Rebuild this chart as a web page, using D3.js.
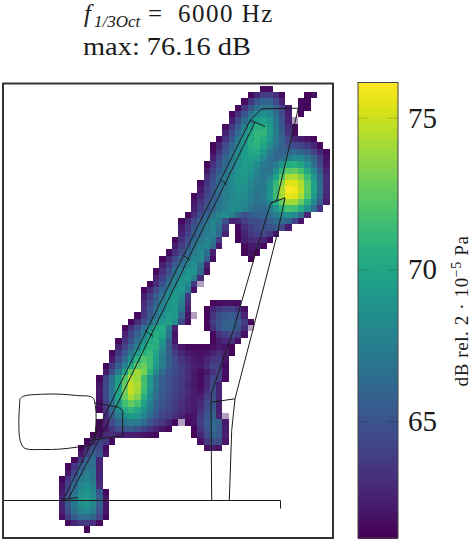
<!DOCTYPE html>
<html>
<head>
<meta charset="utf-8">
<script src="https://cdn.jsdelivr.net/npm/d3@7"></script>
<style>
  html, body { margin: 0; padding: 0; background: #fff; }
  text { font-family: 'Liberation Serif', serif; fill: #1a1a1a; }
</style>
</head>
<body>
<div id="chart"></div>
<script>
// level range of the map, dB
const levelMin = 61.16;
const levelMax = 76.16;
const barTicks = [65, 70, 75];

// first column of each grid row
const rowStart = [
  32, 30, 29, 28, 27, 27, 26, 26, 25, 24, 24, 24, 23, 23, 23, 22, 22, 21, 21, 21,
  20, 19, 19, 19, 18, 18, 17, 16, 16, 15, 15, 14, 13, 13, 13, 13, 12, 11, 10, 10,
  9, 9, 8, 8, 7, 7, 6, 6, 6, 6, 6, 6, 7, 6, 6, 5, 4, 3, 3, 2, 1, 1,
  0, 0, 0, 0, 0, 0, 0, 1, 4
];

const rowLevels = [
  [61.6, 61.6],
  [61.5, 62.8, 63.8, 64.0, 63.2, 61.6, null, null, null, 61.4, 61.9],
  [61.6, 63.6, 65.2, 66.0, 65.8, 64.4, 62.6, null, null, 61.5, 61.5],
  [61.5, 63.4, 65.2, 66.6, 67.2, 67.0, 65.8, 64.2, 62.2, null, 61.6, 61.4],
  [61.5, 63.2, 65.2, 67.0, 68.2, 68.6, 68.0, 66.6, 64.6, 62.4, null, 61.5],
  [62.4, 64.4, 66.2, 68.0, 69.4, 69.8, 69.0, 67.2, 65.0, 62.6],
  [61.7, 63.6, 65.6, 67.6, 69.4, 70.6, 70.6, 69.2, 67.2, 65.2, 63.2, 61.6],
  [62.6, 64.4, 66.4, 68.4, 70.0, 71.0, 71.0, 69.4, 67.6, 65.6, 63.4, 61.6],
  [61.6, 63.4, 65.2, 67.2, 68.8, 70.2, 71.0, 70.4, 69.0, 67.4, 65.8, 64.2, 62.8, 62.2, 61.9, 61.5],
  [61.4, 62.6, 64.4, 66.2, 67.8, 69.2, 70.4, 70.8, 70.0, 68.4, 67.0, 65.8, 64.8, 64.4, 64.2, 63.6, 62.8, 61.5],
  [61.7, 63.4, 65.2, 66.8, 68.2, 69.4, 70.2, 70.2, 69.0, 67.4, 66.2, 65.8, 66.0, 66.4, 66.0, 65.4, 64.2, 62.8, 61.5],
  [62.4, 64.2, 65.8, 67.2, 68.4, 69.4, 69.8, 69.4, 68.2, 66.8, 66.0, 66.4, 67.6, 68.4, 68.2, 67.2, 65.8, 63.8, 61.9],
  [61.5, 63.2, 64.8, 66.2, 67.6, 68.6, 69.2, 69.2, 68.4, 67.2, 66.6, 67.4, 69.0, 70.4, 70.6, 70.0, 68.6, 66.6, 64.4, 62.2],
  [62.2, 64.0, 65.4, 66.8, 68.0, 68.8, 69.2, 69.0, 68.0, 67.0, 67.0, 68.6, 70.6, 72.4, 72.6, 71.8, 70.2, 68.0, 65.4, 62.6],
  [63.0, 64.6, 66.0, 67.2, 68.2, 69.0, 69.2, 68.6, 67.6, 67.0, 67.8, 69.8, 72.2, 74.2, 74.4, 73.4, 71.4, 69.0, 66.0, 63.0],
  [61.6, 63.4, 65.0, 66.2, 67.2, 68.2, 69.0, 69.0, 68.2, 67.4, 67.4, 68.8, 71.0, 73.6, 75.4, 75.4, 74.4, 72.2, 69.6, 66.4, 63.0],
  [62.2, 63.8, 65.2, 66.4, 67.4, 68.2, 68.8, 68.6, 67.8, 67.0, 67.2, 68.8, 71.4, 74.2, 76.16, 75.8, 74.6, 72.4, 69.8, 66.6, 63.0],
  [61.5, 62.8, 64.2, 65.4, 66.4, 67.4, 68.2, 68.6, 68.2, 67.6, 67.0, 67.4, 69.0, 71.4, 74.0, 75.6, 75.4, 74.2, 72.0, 69.4, 66.2, 62.8],
  [62.0, 63.4, 64.6, 65.8, 66.8, 67.6, 68.2, 68.4, 68.0, 67.4, 66.8, 67.0, 68.4, 70.4, 72.6, 74.0, 74.0, 72.6, 70.6, 68.2, 65.4, 62.4],
  [62.4, 63.8, 65.0, 66.0, 67.0, 67.8, 68.4, 68.4, 67.8, 67.0, 66.2, 66.2, 67.4, 69.0, 70.8, 71.8, 71.6, 70.4, 68.6, 66.4, 63.4],
  [61.5, 63.2, 64.6, 65.8, 67.0, 68.0, 68.4, 67.6, 65.8, 64.8, 65.4, 65.8, 66.0, 66.6, 67.6, 68.4, 68.8, 68.2, 66.6, 62.8],
  [61.5, 63.0, 64.4, 65.6, 66.8, 68.0, 67.2, 64.8, 62.6, 62.8, 63.8, 64.6, 64.6, 65.0, 65.6, 66.2, 66.4, 65.8, 64.2, 62.0],
  [62.2, 63.6, 65.0, 66.2, 67.4, 68.0, 66.8, 63.6, null, 61.6, 63.2, 64.0, 64.4, 64.8, 65.0, 65.4, 64.4, 62.2],
  [62.8, 64.0, 65.4, 66.6, 67.6, 67.8, 66.2, 62.6, null, 61.4, 62.6, 63.6, 64.0, 64.2, 63.6, 62.0],
  [61.6, 63.2, 64.6, 66.0, 67.2, 68.0, 67.2, 63.8, null, null, 61.4, 62.4, 63.0, 63.2, 62.8, 61.6],
  [62.4, 63.8, 65.2, 66.6, 67.8, 68.2, 66.4, 62.2, null, null, null, 61.6, 62.2, 62.4, 61.6],
  [61.6, 63.2, 64.6, 66.0, 67.4, 68.2, 66.6, 62.4, null, null, null, null, 61.4, 61.9, 61.5],
  [61.4, 62.8, 64.4, 65.8, 67.2, 68.2, 68.2, 65.6, 61.8, null, null, null, null, null, 61.4],
  [62.4, 63.8, 65.4, 66.8, 68.0, 68.6, 67.0, 62.6],
  [61.6, 63.2, 64.8, 66.4, 67.8, 68.8, 68.8, 66.2, 61.7],
  [62.6, 64.0, 65.8, 67.4, 68.8, 69.2, 67.6, 63.0],
  [61.5, 63.2, 64.8, 66.6, 68.0, 69.0, 68.2, 63.6],
  [61.5, 62.8, 64.4, 66.0, 67.6, 68.8, 69.2, 67.2, 62.0],
  [62.4, 63.8, 65.4, 67.0, 68.4, 69.2, 68.4, 63.6],
  [63.0, 64.4, 66.0, 67.6, 68.8, 69.2, 67.8, 63.0, null, null, null, 61.4, 61.6, 61.8, 61.8, 61.6],
  [63.4, 65.0, 66.6, 68.0, 69.0, 69.4, 67.2, 62.6, null, null, 61.4, 62.8, 63.6, 64.0, 64.0, 63.4, 61.8],
  [61.6, 63.6, 65.2, 66.8, 68.4, 69.4, 69.2, 66.0, 62.0, null, null, 61.5, 63.4, 64.6, 65.2, 65.4, 64.8, 62.6],
  [61.5, 63.0, 64.6, 66.2, 67.8, 69.2, 69.8, 68.6, 64.4, 61.7, null, null, 61.6, 63.8, 65.0, 65.8, 66.0, 65.4, 63.8, 61.5],
  [61.6, 63.2, 64.8, 66.6, 68.4, 70.0, 70.2, 67.6, 62.6, null, null, null, null, 61.4, 63.2, 64.8, 65.6, 65.8, 65.2, 63.2],
  [62.6, 64.2, 65.8, 67.6, 69.6, 70.6, 70.0, 66.8, 61.9, null, null, null, null, null, 61.6, 63.2, 64.0, 64.4, 63.8, 61.9],
  [61.6, 63.4, 65.0, 66.8, 68.8, 70.2, 70.6, 69.0, 65.6, 62.0, null, null, null, null, null, 61.4, 62.2, 62.8, 63.0, 61.8],
  [62.6, 64.2, 65.8, 67.8, 69.6, 70.8, 70.6, 68.6, 65.4, 63.0, 62.0, 61.6, 61.5, 61.5, 61.5, 61.7, 62.2, 62.0, 61.4],
  [61.5, 63.6, 65.4, 67.2, 69.2, 70.8, 71.2, 70.0, 67.8, 65.6, 63.8, 62.8, 62.2, 61.9, 61.8, 62.0, 62.6, 63.0, 62.4, 61.5],
  [62.2, 64.4, 66.4, 68.6, 70.8, 72.0, 71.4, 69.6, 67.4, 65.6, 64.4, 63.4, 62.8, 62.2, 62.0, 62.6, 63.4, 63.6, 62.0],
  [61.5, 63.6, 65.6, 67.8, 70.2, 72.2, 72.8, 71.4, 69.4, 67.4, 65.6, 64.6, 63.8, 63.2, 62.4, 62.2, 63.0, 64.0, 63.8, 61.6],
  [62.2, 64.6, 67.2, 70.0, 72.6, 74.0, 73.0, 70.8, 68.4, 66.4, 65.2, 64.4, 63.8, 63.0, 62.2, 61.7, 62.2, 63.4, 64.2, 61.8],
  [61.4, 64.2, 66.8, 69.4, 72.2, 74.2, 73.8, 71.6, 69.2, 67.0, 65.6, 64.8, 64.2, 63.8, 63.0, 62.2, 61.6, 62.8, 64.2, 64.0, 61.6],
  [61.9, 64.4, 67.0, 69.6, 72.6, 74.8, 74.2, 71.8, 69.2, 67.0, 65.6, 64.8, 64.2, 63.6, 62.8, 62.0, 61.6, 62.8, 64.4, 62.6],
  [62.2, 64.4, 67.0, 70.0, 73.0, 74.8, 74.0, 71.4, 68.8, 66.8, 65.4, 64.8, 64.2, 63.6, 63.0, 62.2, 61.9, 63.2, 64.6, 62.6],
  [62.0, 64.4, 67.0, 69.8, 72.6, 74.2, 73.2, 70.6, 68.4, 66.4, 65.2, 64.6, 64.0, 63.4, 62.8, 62.2, 62.4, 63.8, 64.8, 62.6],
  [61.7, 64.0, 66.6, 69.2, 71.6, 72.6, 71.8, 69.6, 67.8, 66.0, 65.0, 64.4, 63.8, 63.2, 62.6, 62.2, 62.8, 64.4, 65.2, 62.5],
  [61.5, 63.6, 66.2, 68.4, 70.2, 71.0, 70.2, 68.8, 67.2, 65.6, 64.6, 64.2, 63.6, 63.0, 62.4, 62.2, 63.2, 64.8, 65.4, 62.4],
  [63.0, 65.4, 67.4, 68.8, 69.4, 69.0, 67.8, 66.4, 65.2, 64.2, 63.8, 63.2, 62.6, 61.9, 62.0, 63.6, 65.2, 65.8, 62.6],
  [61.5, 62.6, 64.4, 66.0, 67.0, 67.4, 67.2, 66.4, 65.2, 64.2, 63.4, 62.6, 61.6, null, 61.5, 62.0, 63.8, 65.4, 66.2, 65.6, 62.2],
  [61.4, 62.2, 63.6, 64.6, 65.2, 65.4, 65.0, 64.2, 63.4, 62.6, 61.9, 61.4, null, null, null, 61.5, 63.4, 65.2, 66.2, 65.6, 62.4],
  [61.4, 61.8, 63.0, 63.2, 62.8, 62.4, 62.4, 62.2, 62.0, 61.8, 61.5, null, null, null, null, null, 61.4, 62.8, 64.6, 65.8, 65.4, 62.4],
  [61.4, 63.0, 64.2, 63.6, 61.6, null, null, null, null, null, null, null, null, null, null, null, null, null, 61.7, 63.6, 64.8, 64.4, 62.0],
  [61.4, 63.2, 64.6, 64.4, 61.6, null, null, null, null, null, null, null, null, null, null, null, null, null, null, null, 61.8, 62.4, 61.9],
  [62.0, 64.0, 65.6, 65.2, 62.0],
  [61.5, 63.6, 65.6, 66.4, 62.8],
  [61.4, 63.4, 65.4, 66.8, 66.4, 62.6],
  [62.2, 64.2, 66.2, 67.4, 67.0, 62.8],
  [61.4, 63.4, 65.4, 67.2, 68.0, 67.0, 62.8],
  [61.9, 64.0, 66.2, 68.0, 68.6, 67.6, 63.0],
  [62.2, 64.6, 66.8, 68.4, 69.0, 68.0, 65.2, 61.5],
  [62.6, 65.0, 67.2, 68.8, 69.2, 68.4, 65.8, 62.0],
  [62.6, 65.2, 67.2, 68.6, 69.0, 68.2, 65.8, 62.0],
  [62.4, 64.8, 66.6, 67.8, 68.2, 67.4, 65.2, 61.9],
  [61.8, 63.8, 65.4, 66.4, 66.6, 66.0, 64.2, 61.5],
  [61.6, 62.8, 63.6, 63.8, 63.2, 61.6],
  [61.4]
];

// half transparent border cells, [col, row]
const paleCells = [[37, 5], [22, 31], [21, 36], [30, 38], [26, 52], [19, 53]];

// aircraft outline, traced units from the frame corner
const groundLine = [[0, 417], [277.5, 417], [277.5, 425]];
const engine = [[17, 315.3], [18.7, 313.7], [40.3, 310.7], [73.7, 312], [90.3, 314.7], [92.3, 322], [92.3, 348.7], [90.3, 360.3], [73.7, 363.7], [40.3, 366], [20.3, 363.7], [17.7, 358.7], [17, 315.3]];
const pylonBox = [[91.3, 319.3], [115.3, 323.7], [119.7, 327], [119.7, 352], [87, 357]];
const strutFront = [[60.3, 416], [247, 37], [258.7, 25.3], [295.3, 24.7]];
const strutRear = [[65.3, 415.3], [112, 325.3], [252, 38.7]];
const strutFoot = [[60.3, 416], [65.3, 415.3], [75, 414]];
const strutTicks = [
  [[142, 247], [150.3, 253]],
  [[180.3, 172], [187, 176.3]],
  [[218.7, 97], [223.7, 101]],
  [[247, 37], [252, 38.7], [262, 43]]
];
const gearFront = [[295.3, 24.7], [273.7, 117], [267.7, 119.7], [256.3, 157], [230.3, 247], [208.7, 308.7], [208, 318.7], [208.7, 417]];
const gearRear = [[267.7, 119.7], [282, 114.3], [274.3, 150.3], [249.7, 247], [232, 315.3], [228.7, 347], [226.3, 417]];
const gearBrace = [[208, 318.7], [232, 315.3]];

const width = 474;
const height = 542;
const frame = { left: 3, right: 333, top: 83.5, bottom: 538 };
const bar = { left: 358, right: 398, top: 82.5, bottom: 538 };

const svg = d3.select('#chart')
  .append('svg')
  .attr('width', width)
  .attr('height', height)
  .style('display', 'block');

const colScale = d3.scaleLinear().domain([-8.84, 43.54]).range([frame.left, frame.right]);
const rowScale = d3.scaleLinear().domain([-0.365, 71.85]).range([frame.top, frame.bottom]);
const colour = d3.scaleSequential(d3.interpolateViridis).domain([levelMin, levelMax]);

const cells = rowLevels.flatMap((levels, row) =>
  levels.map((level, i) => ({ col: rowStart[row] + i, row, level })).filter((d) => d.level !== null)
);

svg.append('g')
  .attr('shape-rendering', 'crispEdges')
  .selectAll('rect')
  .data(cells)
  .join('rect')
  .attr('x', (d) => colScale(d.col))
  .attr('y', (d) => rowScale(d.row))
  .attr('width', colScale(1) - colScale(0))
  .attr('height', rowScale(1) - rowScale(0))
  .attr('fill', (d) => colour(d.level));

svg.append('g')
  .attr('shape-rendering', 'crispEdges')
  .selectAll('rect')
  .data(paleCells)
  .join('rect')
  .attr('x', (d) => colScale(d[0]))
  .attr('y', (d) => rowScale(d[1]))
  .attr('width', colScale(1) - colScale(0))
  .attr('height', rowScale(1) - rowScale(0))
  .attr('fill', colour(levelMin + 0.6))
  .attr('opacity', 0.4);

// outline
const traceX = d3.scaleLinear().domain([0, 330]).range([frame.left, frame.right]);
const traceY = d3.scaleLinear().domain([0, 454.5]).range([frame.top, frame.bottom]);
const traceLine = d3.line().x((d) => traceX(d[0])).y((d) => traceY(d[1]));
const outlines = [groundLine, pylonBox, strutFront, strutRear, strutFoot, ...strutTicks, gearFront, gearRear, gearBrace];

svg.append('g')
  .selectAll('path')
  .data(outlines)
  .join('path')
  .attr('d', traceLine)
  .attr('fill', 'none')
  .attr('stroke', '#1c1c1c')
  .attr('stroke-width', 1);

svg.append('path')
  .datum(engine)
  .attr('d', traceLine.curve(d3.curveCatmullRom.alpha(0.8)))
  .attr('fill', 'none')
  .attr('stroke', '#1c1c1c')
  .attr('stroke-width', 1);

svg.append('rect')
  .attr('x', frame.left)
  .attr('y', frame.top)
  .attr('width', frame.right - frame.left)
  .attr('height', frame.bottom - frame.top)
  .attr('fill', 'none')
  .attr('stroke', '#333')
  .attr('stroke-width', 2);

// colour bar
const barScale = d3.scaleLinear().domain([levelMin, levelMax]).range([bar.bottom, bar.top]);
const barLevels = d3.range(levelMin, levelMax, 0.05);

svg.append('g')
  .attr('shape-rendering', 'crispEdges')
  .selectAll('rect')
  .data(barLevels)
  .join('rect')
  .attr('x', bar.left)
  .attr('width', bar.right - bar.left)
  .attr('y', (d) => barScale(d + 0.05))
  .attr('height', (d) => barScale(d) - barScale(d + 0.05) + 0.6)
  .attr('fill', (d) => colour(d));

svg.append('rect')
  .attr('x', bar.left)
  .attr('y', bar.top)
  .attr('width', bar.right - bar.left)
  .attr('height', bar.bottom - bar.top)
  .attr('fill', 'none')
  .attr('stroke', '#444')
  .attr('stroke-width', 1);

const barAxis = svg.append('g')
  .attr('transform', `translate(${bar.right},0)`)
  .call(d3.axisRight(barScale).tickValues(barTicks).tickSize(-11).tickPadding(10).tickFormat(d3.format('d')));
barAxis.select('.domain').remove();
barAxis.selectAll('line').attr('stroke', '#000').attr('stroke-opacity', 0.18);
barAxis.selectAll('text')
  .style('font-family', "'Liberation Serif', serif")
  .style('font-size', '29px')
  .attr('fill', '#1a1a1a');

const barAxisLeft = svg.append('g')
  .attr('transform', `translate(${bar.left},0)`)
  .call(d3.axisLeft(barScale).tickValues(barTicks).tickSize(-11).tickFormat(''));
barAxisLeft.select('.domain').remove();
barAxisLeft.selectAll('line').attr('stroke', '#000').attr('stroke-opacity', 0.18);

// side label
const sideLabel = svg.append('text')
  .attr('transform', 'translate(468,311) rotate(-90)')
  .attr('text-anchor', 'middle')
  .style('font-size', '19px')
  .style('letter-spacing', '0.6px');
sideLabel.append('tspan').text('dB rel. 2 · 10');
sideLabel.append('tspan').attr('dy', -7).style('font-size', '14px').text('−5');
sideLabel.append('tspan').attr('dy', 7).text(' Pa');

// title
const titleOne = svg.append('text').attr('y', 22).style('font-size', '25px');
titleOne.append('tspan').attr('x', 84).style('font-style', 'italic').text('f');
titleOne.append('tspan').attr('x', 94).attr('dy', 5).style('font-size', '17px').style('font-style', 'italic').text('1/3Oct');
titleOne.append('tspan').attr('x', 148).attr('dy', -5).text('=');
titleOne.append('tspan').attr('x', 178).style('letter-spacing', '1.5px').text('6000 Hz');

svg.append('text')
  .attr('x', 83)
  .attr('y', 55)
  .attr('textLength', 168)
  .attr('lengthAdjust', 'spacingAndGlyphs')
  .style('font-size', '25px')
  .text('max: 76.16 dB');
</script>
</body>
</html>
